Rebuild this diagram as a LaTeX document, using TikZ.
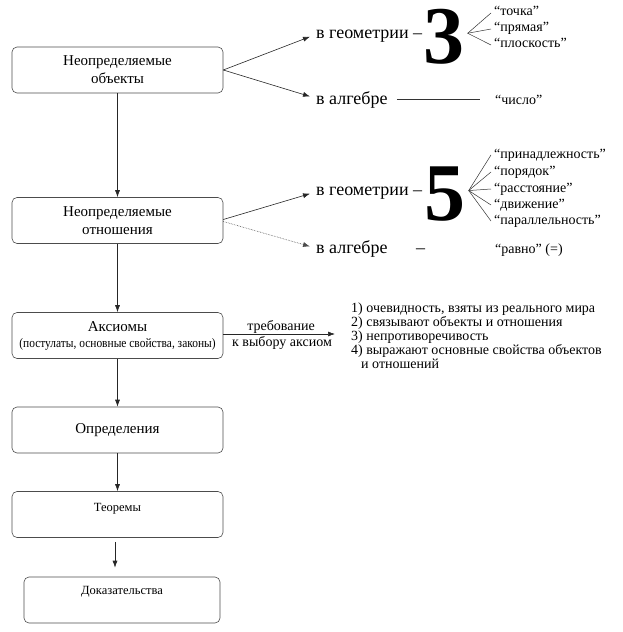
\documentclass[tikz,border=0pt]{standalone}
\usepackage{fontspec}
\setmainfont{Liberation Serif}
\newfontfamily\condfont[FakeStretch=0.88]{Liberation Serif}
\usetikzlibrary{arrows.meta}
\begin{document}
\begin{tikzpicture}[x=1pt,y=-1pt,
  box/.style={draw=black!70, line width=0.6pt, rounded corners=5pt,
    minimum width=211pt, minimum height=46pt, inner sep=0pt, align=center,
    font=\fontsize{15}{18}\selectfont},
  arr/.style={draw=black!85, line width=0.6pt, -{Latex[length=7pt,width=5pt]}},
  thin/.style={draw=black!80, line width=0.5pt},
  big/.style={font=\fontsize{18}{20}\selectfont, inner sep=0pt, anchor=base west},
  lbl/.style={font=\fontsize{14}{16}\selectfont, inner sep=0pt, anchor=base west},
  num/.style={font=\fontsize{82}{82}\selectfont\bfseries, inner sep=0pt, anchor=base},
]
\useasboundingbox (0,0) rectangle (623,632);

% main boxes
\node[box] (b1) at (117.5,70) {Неопределяемые\\объекты};
\node[box] (b2) at (117.5,220.5) {Неопределяемые\\отношения};
\node[box] (b3) at (117.5,335.5) {Аксиомы\\[-2pt]{\condfont\fontsize{13}{15}\selectfont (постулаты, основные свойства, законы)}};
\node[box] (b4) at (117.5,430) {Определения};
\node[box, font=\fontsize{12.5}{15}\selectfont] (b5) at (117.5,514.5) {\raisebox{2.7pt}[0pt][0pt]{Теоремы}};
\node[box, minimum width=196pt, font=\fontsize{12.5}{15}\selectfont] (b6) at (122,600) {\raisebox{5.2pt}[0pt][0pt]{Доказательства}};

\draw[arr] (b1.south) -- (b2.north);
\draw[arr] (b2.south) -- (b3.north);
\draw[arr] (b3.south) -- (b4.north);
\draw[arr] (b4.south) -- (b5.north);
\draw[arr] ([xshift=-2.5pt,yshift=-4pt]b5.south) -- ([xshift=-7pt,yshift=9pt]b6.north);

% objects: geometry
\node[big] (g1) at (316,38) {в геометрии –};
\node[num] (n3) at (444,63) {3};
\node[lbl] (t1) at (494,15) {“точка”};
\node[lbl] (t2) at (494,31) {“прямая”};
\node[lbl] (t3) at (494,47) {“плоскость”};
\foreach \t in {t1,t2,t3}
  \draw[thin] ([xshift=3pt,yshift=3pt]n3.east) -- ([xshift=-3pt,yshift=2pt]\t.base west);
% objects: algebra
\node[big] (a1) at (316,104) {в алгебре};
\node[lbl] (c1) at (495,104) {“число”};
\draw[thin] ([xshift=9pt]a1.east) -- ([xshift=-15pt]a1.east -| c1.west);

\draw[arr] (b1.east) -- ([xshift=-6pt,yshift=-1pt]g1.west);
\draw[arr] (b1.east) -- ([xshift=-6pt,yshift=3pt]a1.west);

% relations: geometry
\node[big] (g2) at (316,195) {в геометрии –};
\node[num] (n5) at (445,220) {5};
\node[lbl] (r1) at (494,158) {“принадлежность”};
\node[lbl] (r2) at (494,175) {“порядок”};
\node[lbl] (r3) at (494,192) {“расстояние”};
\node[lbl] (r4) at (494,208) {“движение”};
\node[lbl] (r5) at (494,224) {“параллельность”};
\foreach \t in {r1,r2,r3,r4,r5}
  \draw[thin] ([xshift=3pt,yshift=3pt]n5.east) -- ([xshift=-3pt,yshift=3pt]\t.base west);
% relations: algebra
\node[big] (a2) at (316,253) {в алгебре};
\node[big] (d2) at (416,253) {–};
\node[lbl] (e2) at (495,253) {“равно” (=)};

\draw[arr] ([yshift=1pt]b2.east) -- ([xshift=-6pt,yshift=-1pt]g2.west);
\draw[arr, densely dotted, draw=black!70] ([yshift=-1pt]b2.east) -- ([xshift=-6pt,yshift=2pt]a2.west);

% axioms requirements
\coordinate (ax) at (335,334);
\draw[arr] ([yshift=1.5pt]b3.east) -- (ax);
\node[lbl, anchor=base] (q1) at (281,330) {требование};
\node[lbl, anchor=base] (q2) at (282,346) {к выбору аксиом};
\node[lbl, anchor=north west, align=left, font=\fontsize{14}{14}\selectfont] (lst) at (351,303)
  {1) очевидность, взяты из реального мира\\
   2) связывают объекты и отношения\\
   3) непротиворечивость\\
   4) выражают основные свойства объектов\\
   \hspace*{10pt}и отношений};
\end{tikzpicture}
\end{document}
